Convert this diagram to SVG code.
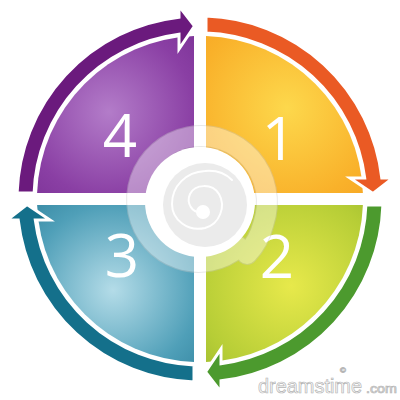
<svg xmlns="http://www.w3.org/2000/svg" xmlns:xlink="http://www.w3.org/1999/xlink" width="400" height="400" viewBox="0 0 400 400">
<style>
.num{font-family:"Open Sans","Liberation Sans",sans-serif;font-size:60px;fill:#fff;text-anchor:middle}
.arr{stroke:#fff;stroke-width:3;stroke-linejoin:miter}
.wm{font-family:"Liberation Sans","DejaVu Sans",sans-serif;fill:#fbfbfb;stroke:#b4b4b4;stroke-width:0.7}
</style>
<defs>
<radialGradient id="gO" gradientUnits="userSpaceOnUse" cx="287" cy="108" r="170">
<stop offset="0" stop-color="#fdd84c"/><stop offset="0.55" stop-color="#f9b12a"/><stop offset="1" stop-color="#f4961e"/>
</radialGradient>
<radialGradient id="gG" gradientUnits="userSpaceOnUse" cx="287" cy="108" r="170">
<stop offset="0" stop-color="#e7e94b"/><stop offset="0.55" stop-color="#b6cd36"/><stop offset="1" stop-color="#82a82a"/>
</radialGradient>
<radialGradient id="gT" gradientUnits="userSpaceOnUse" cx="287" cy="108" r="170">
<stop offset="0" stop-color="#b4dce8"/><stop offset="0.5" stop-color="#4f9fb8"/><stop offset="1" stop-color="#186c88"/>
</radialGradient>
<radialGradient id="gP" gradientUnits="userSpaceOnUse" cx="287" cy="108" r="170">
<stop offset="0" stop-color="#b37cc9"/><stop offset="0.5" stop-color="#8a3fa4"/><stop offset="1" stop-color="#6a2186"/>
</radialGradient>
<path id="sector" d="M206,193 L206,36.1 A163,163 0 0 1 362.9,193 Z"/>
<path id="arrow" class="arr" d="M206,16.1 A183,183 0 0 1 381.8,178 L393,178 L373,193.5 L350,178 L364.7,178 A166,166 0 0 0 206,33.1 Z"/>
</defs>
<rect width="400" height="400" fill="#fff"/>
<g id="q1">
<use xlink:href="#sector" fill="url(#gO)"/>
<text class="num" x="279" y="160">1</text>
</g>
<g id="q2">
<use xlink:href="#sector" fill="url(#gG)" transform="rotate(90 200 199)"/>
<text class="num" x="277" y="278">2</text>
</g>
<g id="q3">
<use xlink:href="#sector" fill="url(#gT)" transform="rotate(180 200 199)"/>
<text class="num" x="122" y="277">3</text>
</g>
<g id="q4">
<use xlink:href="#sector" fill="url(#gP)" transform="rotate(270 200 199)"/>
<text class="num" x="120" y="157">4</text>
</g>
<g id="connectors">
<use xlink:href="#arrow" fill="#ea5a24"/>
<use xlink:href="#arrow" fill="#4c9a2e" transform="rotate(90 200 199)"/>
<use xlink:href="#arrow" fill="#14708b" transform="rotate(180 200 199)"/>
<use xlink:href="#arrow" fill="#6b1a7d" transform="rotate(270 200 199)"/>
</g>
<g id="center">
<g opacity="0.4" fill="none" stroke-linecap="round">
<path d="M238.6,247 A60.3,60.3 0 0 1 210.5,260.7 A61,61 0 0 1 179,258.6 A61.7,61.7 0 0 1 152.5,240.9 A62.3,62.3 0 0 1 138.3,211.9 A63,63 0 0 1 140.5,179.3 A63.7,63.7 0 0 1 158.9,152 A64.3,64.3 0 0 1 188.8,137.3 A65,65 0 0 1 222.3,139.6 A65.7,65.7 0 0 1 250.6,158.6 A66.3,66.3 0 0 1 265.7,189.4 A67,67 0 0 1 263.3,224 A68,68 0 0 1 247,254" stroke="#c8c8c8" stroke-width="22"/>
<path d="M238.6,247 A60.3,60.3 0 0 1 210.5,260.7 A61,61 0 0 1 179,258.6 A61.7,61.7 0 0 1 152.5,240.9 A62.3,62.3 0 0 1 138.3,211.9 A63,63 0 0 1 140.5,179.3 A63.7,63.7 0 0 1 158.9,152 A64.3,64.3 0 0 1 188.8,137.3 A65,65 0 0 1 222.3,139.6 A65.7,65.7 0 0 1 250.6,158.6 A66.3,66.3 0 0 1 265.7,189.4 A67,67 0 0 1 263.3,224 A68,68 0 0 1 247,254" stroke="#fff" stroke-width="20"/>
</g>
<circle cx="200" cy="202" r="55" fill="#fff"/>
<circle cx="205" cy="205" r="42" fill="#ebebeb"/>
<path d="M203,212 C192,214 186,203 190,194 C195,184 212,183 219,194 C226,206 220,224 205,228 C188,232 172,220 172,204 C172,186 186,172 205,171 C216,170 226,174 232,180" fill="none" stroke="#fff" stroke-width="2" stroke-linecap="round"/>
<circle cx="203" cy="212" r="7" fill="#fff"/>
</g>
<g id="watermark">
<text class="wm" x="258" y="393" font-size="21" textLength="104" lengthAdjust="spacingAndGlyphs">dreamstime</text>
<text class="wm" x="366" y="393" font-size="12" textLength="31" lengthAdjust="spacingAndGlyphs">.com</text>
<text class="wm" x="343" y="373" font-size="8" text-anchor="middle">©</text>
</g>
</svg>
